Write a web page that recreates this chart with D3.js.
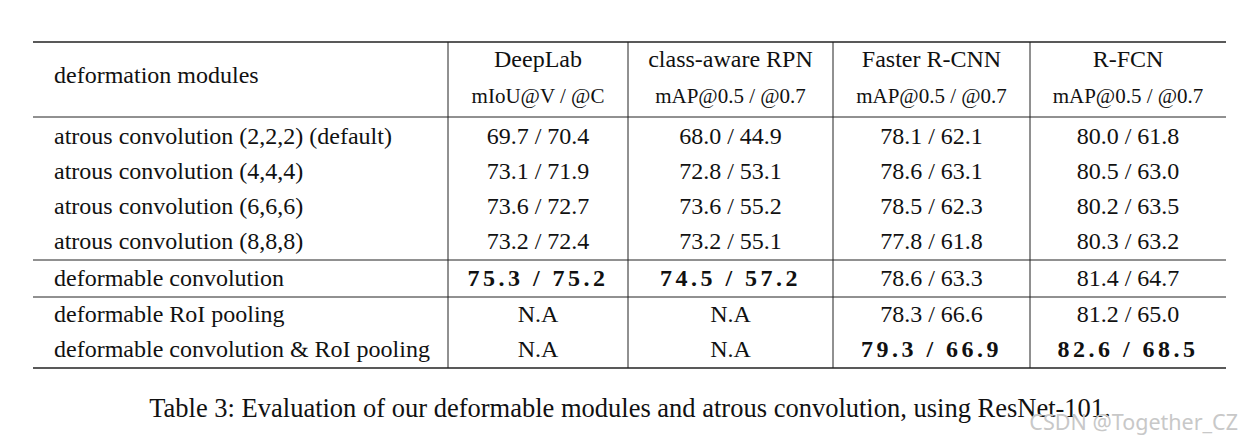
<!DOCTYPE html>
<html><head><meta charset="utf-8">
<script src="https://cdn.jsdelivr.net/npm/d3@7"></script>
<style>body{margin:0;background:#fff}text{font-family:"Liberation Serif","Times New Roman",serif;fill:#111}</style>
</head><body><svg id="c" width="1243" height="442"></svg>
<script>
const headers = ["DeepLab","class-aware RPN","Faster R-CNN","R-FCN"];
const subHeaders = ["mIoU@V / @C","mAP@0.5 / @0.7","mAP@0.5 / @0.7","mAP@0.5 / @0.7"];
const rowLabels = ["atrous convolution (2,2,2) (default)","atrous convolution (4,4,4)","atrous convolution (6,6,6)","atrous convolution (8,8,8)","deformable convolution","deformable RoI pooling","deformable convolution & RoI pooling"];
const deeplab = ["69.7 / 70.4","73.1 / 71.9","73.6 / 72.7","73.2 / 72.4","75.3 / 75.2","N.A","N.A"];
const rpn = ["68.0 / 44.9","72.8 / 53.1","73.6 / 55.2","73.2 / 55.1","74.5 / 57.2","N.A","N.A"];
const faster = ["78.1 / 62.1","78.6 / 63.1","78.5 / 62.3","77.8 / 61.8","78.6 / 63.3","78.3 / 66.6","79.3 / 66.9"];
const rfcn = ["80.0 / 61.8","80.5 / 63.0","80.2 / 63.5","80.3 / 63.2","81.4 / 64.7","81.2 / 65.0","82.6 / 68.5"];
const boldCells = [[4,0],[4,1],[6,2],[6,3]];
const caption = "Table 3: Evaluation of our deformable modules and atrous convolution, using ResNet-101.";

const svg = d3.select("#c");
const colEdges = [33,448,628,833,1030,1226];
const cols = [deeplab,rpn,faster,rfcn];
const rowPos = [136,171,206,241,278,314,349];
const hl = (y,w)=>svg.append("line").attr("x1",33).attr("x2",1226).attr("y1",y).attr("y2",y).attr("stroke","#222").attr("stroke-width",w);
hl(42,1.3); hl(117,1); hl(260,1); hl(297,1); hl(368,1.3);
colEdges.slice(1,5).forEach(x=>svg.append("line").attr("x1",x).attr("x2",x).attr("y1",42).attr("y2",368).attr("stroke","#222").attr("stroke-width",1));
svg.append("text").attr("x",54).attr("y",83).attr("font-size",24).text("deformation modules");
headers.forEach((h,j)=>{
  const cx=(colEdges[j+1]+colEdges[j+2])/2;
  svg.append("text").attr("x",cx).attr("y",67).attr("text-anchor","middle").attr("font-size",24).text(h);
  svg.append("text").attr("x",cx).attr("y",103).attr("text-anchor","middle").attr("font-size",21).text(subHeaders[j]);
});
rowLabels.forEach((r,i)=>{
  svg.append("text").attr("x",54).attr("y",rowPos[i]+8).attr("font-size",24).text(r);
  cols.forEach((c,j)=>{
    const cx=(colEdges[j+1]+colEdges[j+2])/2;
    const b=boldCells.some(d=>d[0]===i&&d[1]===j);
    svg.append("text").attr("x",cx).attr("y",rowPos[i]+8).attr("text-anchor","middle").attr("font-size",24)
      .attr("font-weight",b?"bold":"normal").attr("letter-spacing",b?"3.5px":null).text(c[i]);
  });
});
svg.append("text").attr("x",630).attr("y",417).attr("text-anchor","middle").attr("font-size",26.5).text(caption);
svg.append("text").attr("x",1238).attr("y",430).attr("text-anchor","end").attr("font-size",21.5).style("font-family","'Noto Sans',sans-serif").style("fill","#c8c8c8").text("CSDN @Together_CZ");
</script></body></html>
